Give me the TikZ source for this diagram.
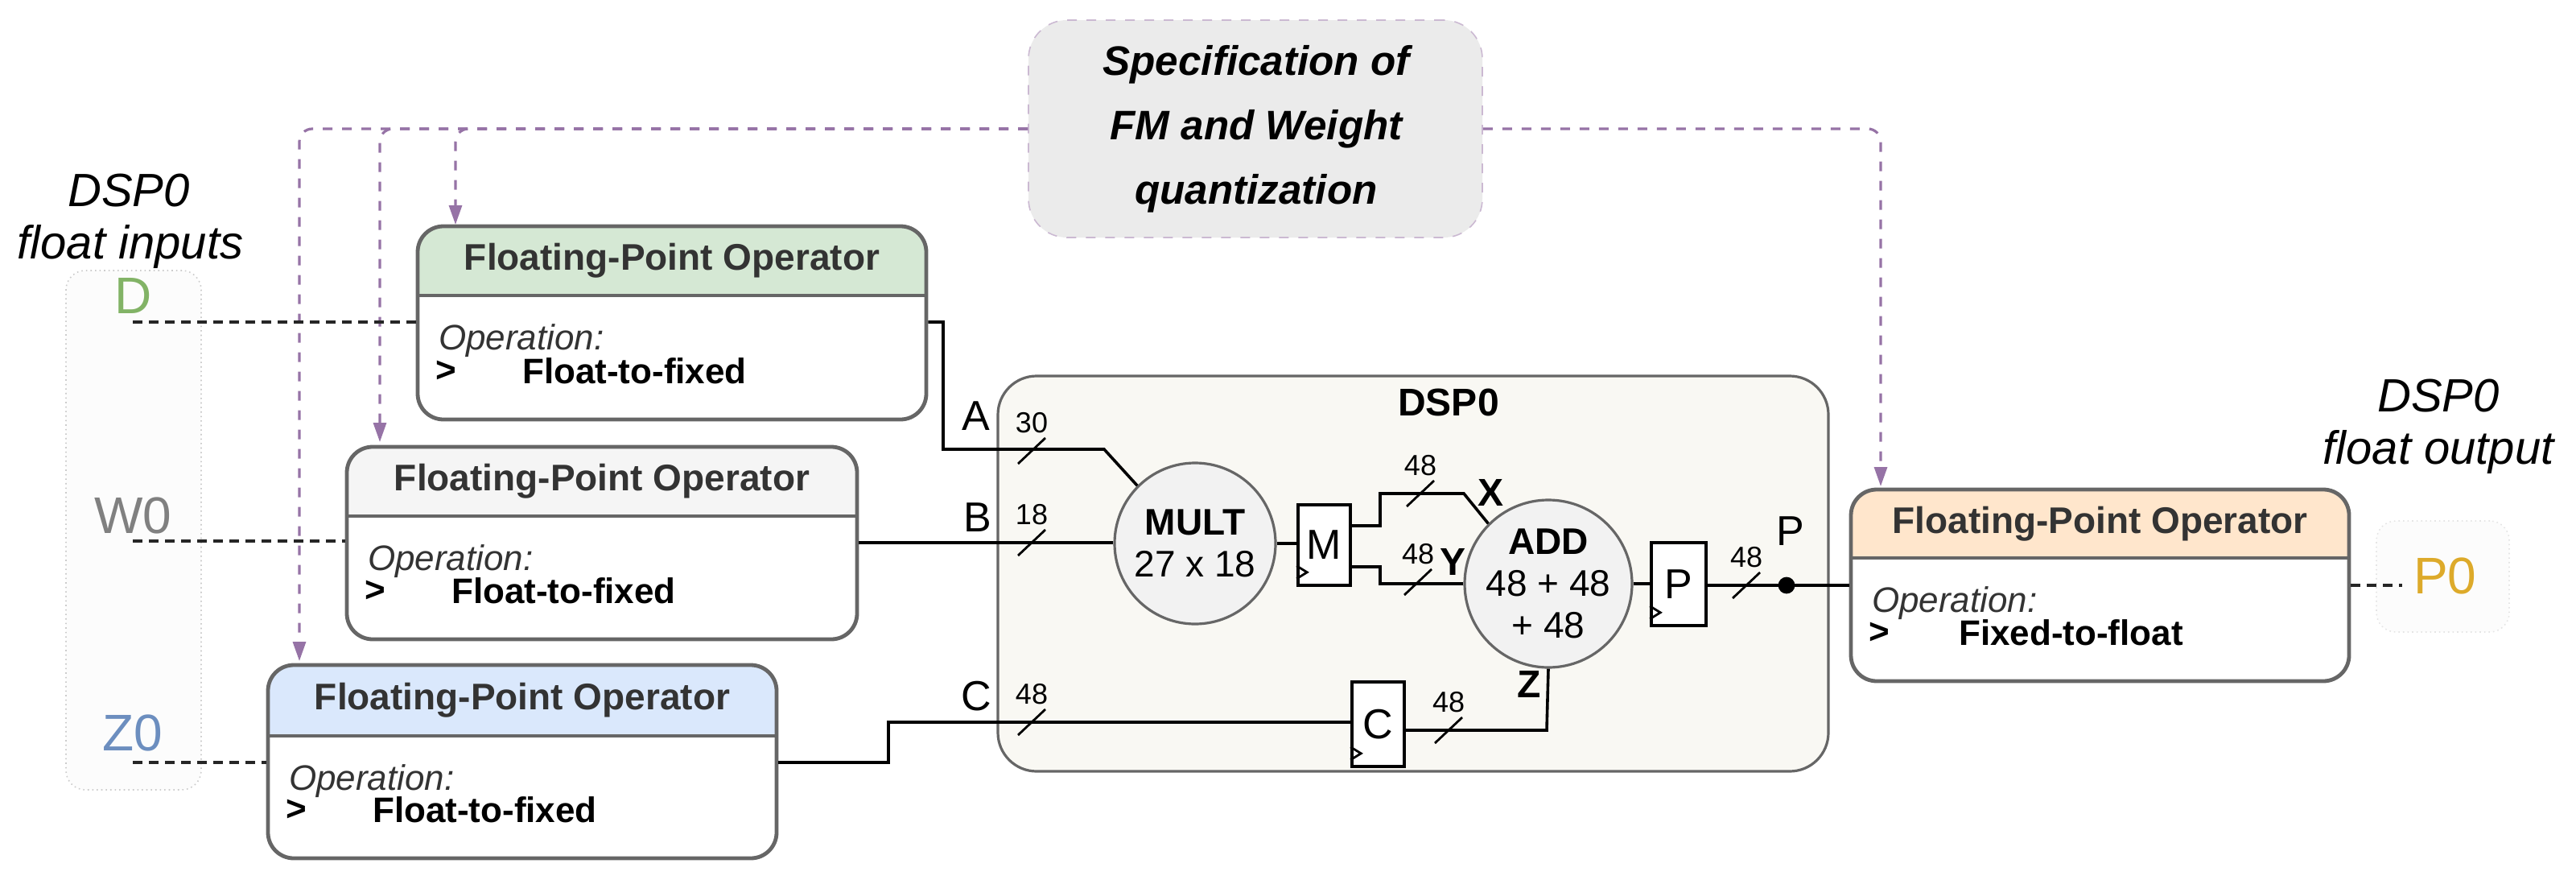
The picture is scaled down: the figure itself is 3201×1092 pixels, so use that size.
\documentclass[tikz,border=0pt]{standalone}
\usepackage{fontspec}
\setmainfont{Liberation Sans}
\usetikzlibrary{calc,fit,arrows.meta}
\definecolor{cgreen}{HTML}{D5E8D4}
\definecolor{cgrey}{HTML}{F5F5F5}
\definecolor{cblue}{HTML}{DAE8FC}
\definecolor{corange}{HTML}{FFE6CC}
\definecolor{bord}{HTML}{666666}
\definecolor{purp}{HTML}{9673A6}
\definecolor{dspfill}{HTML}{F9F8F3}
\definecolor{circfill}{HTML}{F2F2F2}
\definecolor{tgreen}{HTML}{82B366}
\definecolor{tgrey}{HTML}{808080}
\definecolor{tblue}{HTML}{6C8EBF}
\definecolor{tgold}{HTML}{DDAA2A}
\tikzset{
  fs/.style={font=\fontsize{#1}{#1}\selectfont},
  boxline/.style={draw=bord, line width=1.2pt},
  hdr/.style={fs=11.5, font=\bfseries\fontsize{11.5}{13}\selectfont, text=black!80},
  op/.style={anchor=west, font=\itshape\fontsize{11}{13}\selectfont, text=black!80},
  fl/.style={anchor=west, font=\bfseries\fontsize{11}{13}\selectfont},
  wire/.style={line width=0.9pt, black},
  spec/.style={purp, dashed, line width=0.8pt, rounded corners=4pt, -{Triangle[length=6pt,width=4pt]}},
  bus/.style={font=\fontsize{9}{9}\selectfont},
  reg/.style={draw=black, line width=0.9pt, fill=white},
  inlab/.style={font=\fontsize{16}{16}\selectfont},
  big/.style={font=\fontsize{13}{13}\selectfont},
}
\newcommand\fpo[9]{%
  \fill[#7] (#2,#5) [rounded corners=8pt]-- (#2,#3) -- (#4,#3) [sharp corners]-- (#4,#5) -- cycle;
  \draw[boxline] (#2,#5) -- (#4,#5);
  \node[fit={(#2,#3)(#4,#6)}, inner sep=0pt, boxline, rounded corners=8pt] (#1) {};
  \node[hdr] at ($(#2,#3)!0.5!(#4,#5)$) {Floating-Point Operator};
  \node[op] at ($(#2,#5)+(12,0)$) [yshift=-14pt] {Operation:};
  \node[fl] at ($(#2,#6)+(8,0)$) [yshift=15pt] {>};
  \node[fl] at ($(#2,#6)+(#9,0)$) [yshift=15pt] {#8};
}
\newcommand\busmark[4]{% x y label name
  \draw[wire, line width=0.7pt] ($(#1,#2)+(-17,16)$) -- ($(#1,#2)+(17,-16)$);
  \node[bus] (#4) at ($(#1,#2)+(0,-35)$) {#3};
}
\begin{document}
\begin{tikzpicture}[x=0.25pt,y=-0.25pt]
\useasboundingbox (0,0) rectangle (3201,1092);

% input/output placeholder boxes
\node[fit={(82,336)(250,981)}, inner sep=0pt, draw=black!20, densely dotted, fill=black!1, rounded corners=6pt] (inbox) {};
\node[fit={(2953,647)(3118,785)}, inner sep=0pt, draw=black!10, densely dotted, fill=black!1, rounded corners=6pt] (outbox) {};
\node[font=\itshape\fontsize{14.5}{14.5}\selectfont] (t1) at (160,237) {DSP0};
\node[font=\itshape\fontsize{14.5}{14.5}\selectfont] (t2) at (162,307) {float inputs};
\node[font=\itshape\fontsize{14.5}{14.5}\selectfont] (t3) at (3030,492) {DSP0};
\node[font=\itshape\fontsize{14.5}{14.5}\selectfont] (t4) at (3030,561) {float output};
\node[inlab, text=tgreen] (D) at (166,367) {D};
\node[inlab, text=tgrey] (W0) at (165,640) {W0};
\node[inlab, text=tblue] (Z0) at (165,910) {Z0};
\node[inlab, text=tgold, anchor=west] (P0) at (2985,715) {P0};

% DSP0 box
\node[fit={(1240,467)(2272,958)}, inner sep=0pt, draw=bord, line width=0.8pt, fill=dspfill, rounded corners=12pt] (dsp) {};
\node[font=\bfseries\fontsize{12}{12}\selectfont] (dsptitle) at (1800,500) {DSP0};

% spec box
\node[fit={(1278,25)(1842,295)}, inner sep=0pt, draw=purp!50, dashed, fill=black!8, rounded corners=12pt] (spec) {};
\node[font=\bfseries\itshape\fontsize{12.8}{18}\selectfont, align=center] (spectxt) at (1561,160) {Specification of\\[2pt]FM and Weight\\[2pt]quantization};

% FP operator boxes
\fpo{green}{519}{281}{1151}{367}{521}{cgreen}{Float-to-fixed}{116}
\fpo{grey}{431}{555}{1065}{641}{794}{cgrey}{Float-to-fixed}{116}
\fpo{blue}{333}{826}{965}{914}{1066}{cblue}{Float-to-fixed}{116}
\fpo{outp}{2300}{608}{2919}{693}{846}{corange}{Fixed-to-float}{120}

% spec arrows
\coordinate (s1) at (372,821);
\coordinate (s2) at (472,549);
\coordinate (s3) at (566,279);
\coordinate (s4) at (2337,604);
\draw[spec] (spec.west |- 0,160) -| (s1);
\draw[spec] (spec.west |- 0,160) -| (s2);
\draw[spec] (spec.west |- 0,160) -| (s3);
\draw[spec] (spec.east |- 0,160) -| (s4);

% dotted inputs
\draw[black!85, densely dashed, line width=0.9pt] (165,400) -- (green.west |- 0,400);
\draw[black!85, densely dashed, line width=0.9pt] (165,672) -- (grey.west |- 0,672);
\draw[black!85, densely dashed, line width=0.9pt] (165,947) -- (blue.west |- 0,947);
\draw[black!85, densely dashed, line width=0.9pt] (outp.east |- 0,727) -- (P0.west |- 0,727);

% circles
\node[circle, draw=bord, fill=circfill, line width=0.8pt, minimum size=50pt, inner sep=0pt, align=center] (mult) at (1485,675)
  {\bfseries\fontsize{11.5}{14}\selectfont MULT\\[1pt]\fontsize{11.5}{14}\selectfont 27 x 18};
\node[circle, draw=bord, fill=circfill, line width=0.8pt, minimum size=52pt, inner sep=0pt, align=center] (add) at (1924,725)
  {\bfseries\fontsize{11.5}{14}\selectfont ADD\\[1pt]\fontsize{11.5}{14}\selectfont 48 + 48\\[1pt]\fontsize{11.5}{14}\selectfont + 48};

% registers
\node[fit={(1613,627)(1678,727)}, inner sep=0pt, reg] (M) {};
\node[big] at (M) {M};
\node[fit={(1680,847)(1745,952)}, inner sep=0pt, reg] (C) {};
\node[big] at (C) {C};
\node[fit={(2052,674)(2120,777)}, inner sep=0pt, reg] (P) {};
\node[big] at (P) {P};
\foreach \r in {M,C,P}{
  \draw[line width=0.7pt] ($(\r.south west)+(0,-26)$) -- ++(13,8) -- ++(-13,8);
}

% wires
\draw[wire] (green.east |- 0,400) -- (1172,400) -- (1172,558) -- (1372,558) -- (mult.135);
\draw[wire] (grey.east |- 0,674) -- (mult.west |- 0,674);
\draw[wire] (blue.east |- 0,947) -- (1104,947) -- (1104,897) -- (C.west |- 0,897);
\draw[wire] (mult.east) -- (M.west |- mult.east);
\draw[wire] (M.east |- 0,653) -- (1715,653) -- (1715,613) -- (1819,613) -- (add.135);
\draw[wire] (M.east |- 0,704) -- (1715,704) -- (1715,725) -- (add.west);
\draw[wire] (C.east |- 0,907) -- (1922,907) -- (add.south);
\draw[wire] (add.east) -- (P.west |- add.east);
\coordinate (dot) at (2220,727);
\draw[wire] (P.east |- 0,727) -- (dot) -- (outp.west |- 0,727);
\fill (dot) circle (2.6pt);

% labels
\node[big] (lA) at (1213,517) {A};
\node[big] (lB) at (1215,643) {B};
\node[big] (lC) at (1213,865) {C};
\node[big] (lP) at (2225,660) {P};
\node[font=\bfseries\fontsize{12}{12}\selectfont] (lX) at (1852,612) {X};
\node[font=\bfseries\fontsize{12}{12}\selectfont] (lY) at (1805,698) {Y};
\node[font=\bfseries\fontsize{12}{12}\selectfont] (lZ) at (1900,850) {Z};
\busmark{1282}{560}{30}{b1}
\busmark{1282}{674}{18}{b2}
\busmark{1282}{897}{48}{b3}
\busmark{1765}{613}{48}{b4}
\busmark{1762}{723}{48}{b5}
\busmark{1800}{907}{48}{b6}
\busmark{2170}{727}{48}{b7}
\end{tikzpicture}
\end{document}
